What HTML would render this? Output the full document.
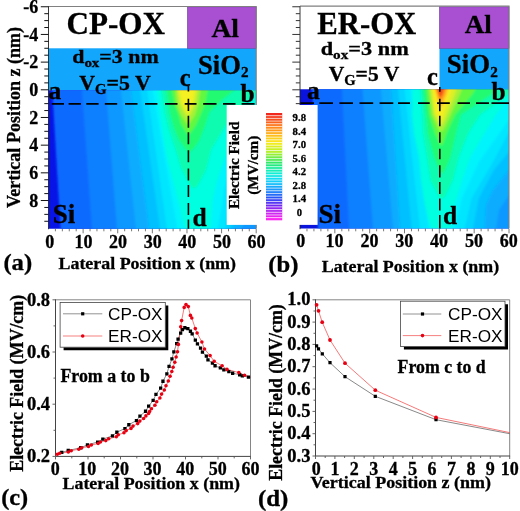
<!DOCTYPE html>
<html><head><meta charset="utf-8"><title>Electric field CP-OX vs ER-OX</title>
<style>
html,body{margin:0;padding:0;background:#fff}
body{width:520px;height:511px;overflow:hidden}
svg{display:block}
.se{font-family:'Liberation Serif', 'DejaVu Serif', serif;stroke:#000;stroke-width:.3px}
.sa{font-family:'Liberation Sans', 'DejaVu Sans', sans-serif}
</style></head><body>
<svg width="520" height="511" viewBox="0 0 520 511">
<defs><filter id="bl" x="-5%" y="-5%" width="110%" height="110%"><feGaussianBlur stdDeviation="1.1"/></filter>
<filter id="tb"><feGaussianBlur stdDeviation="0.35"/></filter></defs>
<rect width="520" height="511" fill="#fff"/>
<g id="panelA">
<rect x="48.5" y="48.3" width="207.7" height="42.1" fill="#12a6fc"/>
<rect x="187.5" y="6.8" width="68.69999999999999" height="41.5" fill="#a84fd2" stroke="#5c3a9c" stroke-width="0.6"/>
<clipPath id="clipa"><rect x="48.5" y="90.2" width="207.7" height="138.60000000000002"/></clipPath>
<g clip-path="url(#clipa)">
<rect x="46.5" y="88.2" width="211.7" height="142.60000000000002" fill="#0814e6"/>
<g filter="url(#bl)">
<path d="M52.1 87.2L276.2 87.2L276.2 231.8L60.7 231.8Z" fill="#0a6aff"/>
<path d="M81.8 87.2L276.2 87.2L276.2 231.8L92.2 231.8Z" fill="#0c80ff"/>
<path d="M105.8 87.2L276.2 87.2L276.2 231.8L117.2 231.8Z" fill="#0c98ff"/>
<path d="M120.7 87.2L276.2 87.2L300.0 150.0L270.0 180.0L250.0 210.0L240.5 231.8L136.3 231.8Z" fill="#0aacff"/>
<path d="M130.6 87.2L276.2 87.2L300.0 130.0L262.0 170.0L242.0 205.0L233.5 231.8L149.4 231.8Z" fill="#04c0ff"/>
<path d="M139.6 87.2L276.2 87.2L300.0 110.0L256.0 150.0L238.0 195.0L229.5 231.8L160.4 231.8Z" fill="#00d4ff"/>
<path d="M146.6 87.2L276.2 87.2L300.0 85.0L256.0 125.0L236.0 170.0L230.0 200.0L226.0 223.0L225.0 231.8L167.4 231.8Z" fill="#00e6ff"/>
<path d="M152.0 87.2L276.2 87.2L290.0 85.0L256.0 112.0L232.0 160.0L224.0 190.0L222.0 206.0L218.5 223.0L217.0 231.8L178.0 231.8Z" fill="#00f4fc"/>
<path d="M157.0 87.2L275.0 87.2L275.0 87.0L250.0 110.0L235.0 135.0L224.0 160.0L217.0 181.0L213.0 200.0L211.0 226.0L203.8 240.4Q199.0 250.0 194.5 242.8L184.0 226.0L178.0 200.0L173.0 181.0L167.0 158.0L163.0 135.0L160.0 113.0L157.0 87.0Z" fill="#00fee0"/>
<path d="M161.0 87.2L262.0 87.2L262.0 87.0L240.0 108.0L226.0 125.0L211.0 150.0L206.0 170.0L198.8 183.2Q194.0 192.0 190.1 184.8L181.0 168.0L175.8 150.0L169.0 130.0L165.0 113.0L161.0 87.0Z" fill="#08fcb0"/>
<path d="M166.0 87.2L238.0 87.2L238.0 87.0L222.0 100.0L209.5 112.0L205.0 126.0L199.0 141.0L193.3 148.8Q189.5 154.0 186.3 149.8L179.0 140.0L174.0 128.0L170.0 113.0L166.0 87.0Z" fill="#22fa72"/>
<path d="M171.5 87.2L208.0 87.2L208.0 87.0L205.2 103.7L200.3 115.0L196.0 125.0L191.5 131.6Q188.5 136.0 186.2 132.4L181.0 124.0L178.7 115.0L174.5 103.7L171.5 87.0Z" fill="#62f840"/>
<path d="M175.5 87.2L200.8 87.2L200.8 87.0L198.4 103.7L195.0 115.0L190.8 121.6Q188.0 126.0 185.6 122.1L180.0 113.0L176.8 103.7L175.5 87.0Z" fill="#a8f038"/>
<path d="M177.0 87.2L197.5 87.2L197.5 87.0L195.0 103.7L190.8 112.9Q188.0 119.0 185.6 114.4L180.0 103.7L177.0 87.0Z" fill="#dcf028"/>
<path d="M178.5 87.2L194.8 87.2L194.8 87.0L192.5 103.7L189.5 109.6Q187.5 113.5 186.1 110.6L182.7 103.7L178.5 87.0Z" fill="#f4f020"/>
</g>
</g>
<path d="M48.5 6.5H256.2V228.2" stroke="#808080" stroke-width="1.1" fill="none"/>
<path d="M48.5 6.260000000000005V229.2" stroke="#222" stroke-width="0.9" fill="none"/>
<path d="M40.8 6.76H48.5M44.3 13.68H48.5M44.3 20.60H48.5M44.3 27.52H48.5M40.8 34.44H48.5M44.3 41.36H48.5M44.3 48.28H48.5M44.3 55.20H48.5M40.8 62.12H48.5M44.3 69.04H48.5M44.3 75.96H48.5M44.3 82.88H48.5M40.8 89.80H48.5M44.3 96.72H48.5M44.3 103.64H48.5M44.3 110.56H48.5M40.8 117.48H48.5M44.3 124.40H48.5M44.3 131.32H48.5M44.3 138.24H48.5M40.8 145.16H48.5M44.3 152.08H48.5M44.3 159.00H48.5M44.3 165.92H48.5M40.8 172.84H48.5M44.3 179.76H48.5M44.3 186.68H48.5M44.3 193.60H48.5M40.8 200.52H48.5M44.3 207.44H48.5M44.3 214.36H48.5M44.3 221.28H48.5" stroke="#111" stroke-width="1.0" fill="none"/>
<path d="M55.42 228.7V231.29999999999998M62.35 228.7V231.29999999999998M69.27 228.7V231.29999999999998M76.19 228.7V231.29999999999998M83.12 228.7V233.29999999999998M90.04 228.7V231.29999999999998M96.96 228.7V231.29999999999998M103.89 228.7V231.29999999999998M110.81 228.7V231.29999999999998M117.73 228.7V233.29999999999998M124.66 228.7V231.29999999999998M131.58 228.7V231.29999999999998M138.50 228.7V231.29999999999998M145.43 228.7V231.29999999999998M152.35 228.7V233.29999999999998M159.27 228.7V231.29999999999998M166.20 228.7V231.29999999999998M173.12 228.7V231.29999999999998M180.04 228.7V231.29999999999998M186.97 228.7V233.29999999999998M193.89 228.7V231.29999999999998M200.81 228.7V231.29999999999998M207.74 228.7V231.29999999999998M214.66 228.7V231.29999999999998M221.58 228.7V233.29999999999998M228.51 228.7V231.29999999999998M235.43 228.7V231.29999999999998M242.35 228.7V231.29999999999998M249.28 228.7V231.29999999999998M256.20 228.7V233.29999999999998" stroke="#555" stroke-width="0.8" fill="none"/>
<text class="se" x="49.8" y="247.6" font-size="18" text-anchor="middle" font-weight="bold" fill="#000">0</text>
<text class="se" x="83.4" y="247.6" font-size="18" text-anchor="middle" font-weight="bold" fill="#000">10</text>
<text class="se" x="118.0" y="247.6" font-size="18" text-anchor="middle" font-weight="bold" fill="#000">20</text>
<text class="se" x="152.7" y="247.6" font-size="18" text-anchor="middle" font-weight="bold" fill="#000">30</text>
<text class="se" x="187.3" y="247.6" font-size="18" text-anchor="middle" font-weight="bold" fill="#000">40</text>
<text class="se" x="221.9" y="247.6" font-size="18" text-anchor="middle" font-weight="bold" fill="#000">50</text>
<text class="se" x="256.5" y="247.6" font-size="18" text-anchor="middle" font-weight="bold" fill="#000">60</text>
</g>
<g id="panelB">
<rect x="439.5" y="48.3" width="69.5" height="41.5" fill="#12a6fc"/>
<rect x="439.5" y="6.8" width="69.5" height="41.5" fill="#a84fd2" stroke="#5c3a9c" stroke-width="0.6"/>
<clipPath id="clipb"><rect x="300" y="89.2" width="209" height="139.3"/></clipPath>
<g clip-path="url(#clipb)">
<rect x="298" y="87.2" width="213" height="143.3" fill="#0a14dc"/>
<g filter="url(#bl)">
<path d="M311.9 86.2L529.0 86.2L529.0 231.5L318.1 231.5Z" fill="#0a6aff"/>
<path d="M341.8 86.2L529.0 86.2L529.0 231.5L349.2 231.5Z" fill="#0c80ff"/>
<path d="M362.3 86.2L529.0 86.2L529.0 231.5L373.2 231.5Z" fill="#0c98ff"/>
<path d="M380.7 86.2L529.0 86.2L520.0 185.0L509.0 195.0L499.0 210.0L495.5 231.5L393.3 231.5Z" fill="#0aacff"/>
<path d="M390.8 86.2L529.0 86.2L520.0 160.0L509.0 170.0L493.0 190.0L486.0 205.0L484.5 231.5L400.2 231.5Z" fill="#04c0ff"/>
<path d="M397.7 86.2L529.0 86.2L520.0 140.0L509.0 152.0L494.0 170.0L479.0 198.0L472.5 231.5L411.9 231.5Z" fill="#00d4ff"/>
<path d="M404.2 86.2L529.0 86.2L520.0 122.0L509.0 132.0L493.0 162.0L471.7 198.0L464.0 231.5L420.3 231.5Z" fill="#00e6ff"/>
<path d="M410.1 86.2L529.0 86.2L520.0 110.0L509.0 120.0L496.0 138.0L479.0 162.0L462.0 198.0L454.5 231.5L428.9 231.5Z" fill="#00f4fc"/>
<path d="M413.0 86.2L520.0 86.2L520.0 90.0L509.0 100.0L497.0 113.0L483.0 136.0L470.4 157.0L462.0 180.4L455.0 204.0L452.0 222.7L445.7 237.3Q441.5 247.0 437.8 239.7L429.0 222.7L424.6 204.0L421.0 180.4L418.8 157.0L414.0 133.5L412.0 114.7L413.0 86.0Z" fill="#00fee0"/>
<path d="M420.0 86.2L520.0 86.2L520.0 88.0L509.0 94.0L480.0 114.7L468.0 133.5L458.7 157.0L452.8 180.4L446.3 193.4Q442.0 202.0 438.6 195.5L430.5 180.4L427.0 157.0L423.0 133.5L422.3 114.7L420.0 86.0Z" fill="#08fcb0"/>
<path d="M422.7 86.2L497.0 86.2L497.0 86.0L492.0 94.0L461.0 114.7L456.0 133.5L450.5 157.0L445.4 169.0Q442.0 177.0 439.6 171.0L434.0 157.0L428.0 133.5L426.0 114.7L422.7 86.0Z" fill="#22fa72"/>
<path d="M426.0 86.2L477.0 86.2L477.0 86.0L472.7 94.0L455.0 114.7L446.5 133.5L443.5 142.2Q441.5 148.0 439.6 143.7L435.0 133.5L429.3 114.7L426.0 86.0Z" fill="#62f840"/>
<path d="M428.5 86.2L463.0 86.2L463.0 86.0L460.0 94.0L450.5 114.7L444.8 126.9Q441.0 135.0 438.3 128.9L432.0 114.7L428.5 86.0Z" fill="#a8f038"/>
<path d="M430.5 86.2L457.5 86.2L457.5 86.0L455.0 94.0L447.0 114.0L443.4 122.4Q441.0 128.0 438.9 123.8L434.0 114.0L430.5 86.0Z" fill="#dcf028"/>
<path d="M432.3 86.2L452.0 86.2L452.0 86.0L450.0 94.0L444.0 112.0L442.0 118.0Q440.6 122.0 439.0 119.0L435.2 112.0L432.3 86.0Z" fill="#f8ec20"/>
<path d="M434.0 86.2L449.0 86.2L449.0 86.0L447.0 94.0L443.1 103.9Q440.5 110.5 438.6 103.2L434.0 86.0Z" fill="#ffc020"/>
<path d="M435.2 86.2L446.5 86.2L446.5 86.0L445.0 93.0L442.2 99.3Q440.4 103.5 438.8 98.2L435.2 86.0Z" fill="#ff8c20"/>
<path d="M436.3 86.2L444.0 86.2L444.0 86.0L443.0 92.0L441.3 95.9Q440.2 98.5 439.0 94.8L436.3 86.0Z" fill="#f04818"/>
</g>
</g>
<path d="M300 6.1H509V228.2" stroke="#808080" stroke-width="1.1" fill="none"/>
<path d="M300 6.260000000000005V229.2" stroke="#222" stroke-width="0.9" fill="none"/>
<path d="M292.3 6.76H300M295.8 13.68H300M295.8 20.60H300M295.8 27.52H300M292.3 34.44H300M295.8 41.36H300M295.8 48.28H300M295.8 55.20H300M292.3 62.12H300M295.8 69.04H300M295.8 75.96H300M295.8 82.88H300M292.3 89.80H300M295.8 96.72H300M295.8 103.64H300M295.8 110.56H300M292.3 117.48H300M295.8 124.40H300M295.8 131.32H300M295.8 138.24H300M292.3 145.16H300M295.8 152.08H300M295.8 159.00H300M295.8 165.92H300M292.3 172.84H300M295.8 179.76H300M295.8 186.68H300M295.8 193.60H300M292.3 200.52H300M295.8 207.44H300M295.8 214.36H300M295.8 221.28H300" stroke="#333" stroke-width="1.0" fill="none"/>
<path d="M306.97 228.7V231.29999999999998M313.93 228.7V231.29999999999998M320.90 228.7V231.29999999999998M327.87 228.7V231.29999999999998M334.83 228.7V233.29999999999998M341.80 228.7V231.29999999999998M348.77 228.7V231.29999999999998M355.73 228.7V231.29999999999998M362.70 228.7V231.29999999999998M369.67 228.7V233.29999999999998M376.63 228.7V231.29999999999998M383.60 228.7V231.29999999999998M390.57 228.7V231.29999999999998M397.53 228.7V231.29999999999998M404.50 228.7V233.29999999999998M411.47 228.7V231.29999999999998M418.43 228.7V231.29999999999998M425.40 228.7V231.29999999999998M432.37 228.7V231.29999999999998M439.33 228.7V233.29999999999998M446.30 228.7V231.29999999999998M453.27 228.7V231.29999999999998M460.23 228.7V231.29999999999998M467.20 228.7V231.29999999999998M474.17 228.7V233.29999999999998M481.13 228.7V231.29999999999998M488.10 228.7V231.29999999999998M495.07 228.7V231.29999999999998M502.03 228.7V231.29999999999998M509.00 228.7V233.29999999999998" stroke="#555" stroke-width="0.8" fill="none"/>
<text class="se" x="300.7" y="247.3" font-size="18" text-anchor="middle" font-weight="bold" fill="#000">0</text>
<text class="se" x="334.5" y="247.3" font-size="18" text-anchor="middle" font-weight="bold" fill="#000">10</text>
<text class="se" x="369.4" y="247.3" font-size="18" text-anchor="middle" font-weight="bold" fill="#000">20</text>
<text class="se" x="404.2" y="247.3" font-size="18" text-anchor="middle" font-weight="bold" fill="#000">30</text>
<text class="se" x="439.0" y="247.3" font-size="18" text-anchor="middle" font-weight="bold" fill="#000">40</text>
<text class="se" x="473.9" y="247.3" font-size="18" text-anchor="middle" font-weight="bold" fill="#000">50</text>
<text class="se" x="508.7" y="247.3" font-size="18" text-anchor="middle" font-weight="bold" fill="#000">60</text>
</g>
<g id="legend">
<rect x="226.7" y="105" width="90.9" height="119.9" fill="#fff"/>
<rect x="266" y="113.00" width="16.2" height="2.68" fill="#f0281e"/>
<rect x="266" y="115.68" width="16.2" height="2.68" fill="#f33c1e"/>
<rect x="266" y="118.36" width="16.2" height="2.68" fill="#f64f1e"/>
<rect x="266" y="121.05" width="16.2" height="2.68" fill="#f9631e"/>
<rect x="266" y="123.73" width="16.2" height="2.68" fill="#fc771e"/>
<rect x="266" y="126.41" width="16.2" height="2.68" fill="#ff8b1e"/>
<rect x="266" y="129.09" width="16.2" height="2.68" fill="#fe9c1e"/>
<rect x="266" y="131.78" width="16.2" height="2.68" fill="#fdae1e"/>
<rect x="266" y="134.46" width="16.2" height="2.68" fill="#fcbf1e"/>
<rect x="266" y="137.14" width="16.2" height="2.68" fill="#fbd01e"/>
<rect x="266" y="139.82" width="16.2" height="2.68" fill="#fae21e"/>
<rect x="266" y="142.51" width="16.2" height="2.68" fill="#f1ec1f"/>
<rect x="266" y="145.19" width="16.2" height="2.68" fill="#dded22"/>
<rect x="266" y="147.87" width="16.2" height="2.68" fill="#c9ef25"/>
<rect x="266" y="150.56" width="16.2" height="2.68" fill="#b5f028"/>
<rect x="266" y="153.24" width="16.2" height="2.68" fill="#95ee38"/>
<rect x="266" y="155.92" width="16.2" height="2.68" fill="#74ec48"/>
<rect x="266" y="158.60" width="16.2" height="2.68" fill="#53ea58"/>
<rect x="266" y="161.28" width="16.2" height="2.68" fill="#33e969"/>
<rect x="266" y="163.97" width="16.2" height="2.68" fill="#24ea81"/>
<rect x="266" y="166.65" width="16.2" height="2.68" fill="#1eec9e"/>
<rect x="266" y="169.33" width="16.2" height="2.68" fill="#19eeba"/>
<rect x="266" y="172.01" width="16.2" height="2.68" fill="#14efd4"/>
<rect x="266" y="174.70" width="16.2" height="2.68" fill="#14e5e3"/>
<rect x="266" y="177.38" width="16.2" height="2.68" fill="#14dcf2"/>
<rect x="266" y="180.06" width="16.2" height="2.68" fill="#15cffa"/>
<rect x="266" y="182.75" width="16.2" height="2.68" fill="#18bdfa"/>
<rect x="266" y="185.43" width="16.2" height="2.68" fill="#1baafa"/>
<rect x="266" y="188.11" width="16.2" height="2.68" fill="#1e97fa"/>
<rect x="266" y="190.79" width="16.2" height="2.68" fill="#2181f9"/>
<rect x="266" y="193.48" width="16.2" height="2.68" fill="#246bf7"/>
<rect x="266" y="196.16" width="16.2" height="2.68" fill="#2754f5"/>
<rect x="266" y="198.84" width="16.2" height="2.68" fill="#3d44f4"/>
<rect x="266" y="201.52" width="16.2" height="2.68" fill="#5636f2"/>
<rect x="266" y="204.20" width="16.2" height="2.68" fill="#7028f0"/>
<rect x="266" y="206.89" width="16.2" height="2.68" fill="#9128f0"/>
<rect x="266" y="209.57" width="16.2" height="2.68" fill="#b228f0"/>
<rect x="266" y="212.25" width="16.2" height="2.68" fill="#cf28f0"/>
<rect x="266" y="214.94" width="16.2" height="2.68" fill="#e528f0"/>
<rect x="266" y="217.62" width="16.2" height="2.68" fill="#fa28f0"/>
<path d="M266 115.68h16.2M266 118.36h16.2M266 121.05h16.2M266 123.73h16.2M266 126.41h16.2M266 129.09h16.2M266 131.78h16.2M266 134.46h16.2M266 137.14h16.2M266 139.82h16.2M266 142.51h16.2M266 145.19h16.2M266 147.87h16.2M266 150.56h16.2M266 153.24h16.2M266 155.92h16.2M266 158.60h16.2M266 161.28h16.2M266 163.97h16.2M266 166.65h16.2M266 169.33h16.2M266 172.01h16.2M266 174.70h16.2M266 177.38h16.2M266 180.06h16.2M266 182.75h16.2M266 185.43h16.2M266 188.11h16.2M266 190.79h16.2M266 193.48h16.2M266 196.16h16.2M266 198.84h16.2M266 201.52h16.2M266 204.20h16.2M266 206.89h16.2M266 209.57h16.2M266 212.25h16.2M266 214.94h16.2M266 217.62h16.2" stroke="#fff" stroke-opacity="0.7" stroke-width="0.9" fill="none"/>
<text class="se" x="292.6" y="121.0" font-size="10.5" text-anchor="start" font-weight="bold" fill="#000" textLength="13.4" lengthAdjust="spacingAndGlyphs">9.8</text>
<text class="se" x="292.6" y="134.6" font-size="10.5" text-anchor="start" font-weight="bold" fill="#000" textLength="13.4" lengthAdjust="spacingAndGlyphs">8.4</text>
<text class="se" x="292.6" y="148.1" font-size="10.5" text-anchor="start" font-weight="bold" fill="#000" textLength="13.4" lengthAdjust="spacingAndGlyphs">7.0</text>
<text class="se" x="292.6" y="161.7" font-size="10.5" text-anchor="start" font-weight="bold" fill="#000" textLength="13.4" lengthAdjust="spacingAndGlyphs">5.6</text>
<text class="se" x="292.6" y="175.3" font-size="10.5" text-anchor="start" font-weight="bold" fill="#000" textLength="13.4" lengthAdjust="spacingAndGlyphs">4.2</text>
<text class="se" x="292.6" y="188.8" font-size="10.5" text-anchor="start" font-weight="bold" fill="#000" textLength="13.4" lengthAdjust="spacingAndGlyphs">2.8</text>
<text class="se" x="292.6" y="202.4" font-size="10.5" text-anchor="start" font-weight="bold" fill="#000" textLength="13.4" lengthAdjust="spacingAndGlyphs">1.4</text>
<text class="se" x="299.3" y="216.0" font-size="10.5" text-anchor="middle" font-weight="bold" fill="#000">0</text>
<text class="se" font-size="15.2" font-weight="bold" text-anchor="middle" transform="translate(238.8,165.3) rotate(-90)" textLength="87.5" lengthAdjust="spacingAndGlyphs">Electric Field</text>
<text class="se" font-size="15.2" font-weight="bold" text-anchor="middle" transform="translate(257.9,165.2) rotate(-90)" textLength="59" lengthAdjust="spacingAndGlyphs">(MV/cm)</text>
</g>
<g id="labelsTop">
<text class="se" x="66.5" y="34.3" font-size="31.5" text-anchor="start" font-weight="bold" fill="#000" textLength="98.5" lengthAdjust="spacingAndGlyphs">CP-OX</text>
<text class="se" x="211.5" y="36.5" font-size="25" text-anchor="start" font-weight="bold" fill="#000" textLength="27.5" lengthAdjust="spacingAndGlyphs">Al</text>
<text class="se" x="72.2" y="63.2" font-size="19.5" font-weight="bold" textLength="86.5" lengthAdjust="spacingAndGlyphs">d<tspan font-size="13.3" dy="4">ox</tspan><tspan dy="-4">=3 nm</tspan></text>
<text class="se" x="79.3" y="89.6" font-size="20" font-weight="bold" textLength="71.5" lengthAdjust="spacingAndGlyphs">V<tspan font-size="13.6" dy="4">G</tspan><tspan dy="-4">=5 V</tspan></text>
<text class="se" x="198" y="73.6" font-size="26.5" font-weight="bold" textLength="50.5" lengthAdjust="spacingAndGlyphs">SiO<tspan font-size="15" dy="3.5">2</tspan><tspan dy="-3.5"></tspan></text>
<text class="se" x="48.6" y="99.3" font-size="25.5" text-anchor="start" font-weight="bold" fill="#000">a</text>
<text class="se" x="179.8" y="86" font-size="24.5" text-anchor="start" font-weight="bold" fill="#000">c</text>
<text class="se" x="240.6" y="101.5" font-size="25.5" text-anchor="start" font-weight="bold" fill="#000">b</text>
<text class="se" x="52.8" y="222.5" font-size="27" text-anchor="start" font-weight="bold" fill="#000">Si</text>
<text class="se" x="192.6" y="226" font-size="25.5" text-anchor="start" font-weight="bold" fill="#000">d</text>
<text class="se" x="317.3" y="34.0" font-size="31.5" text-anchor="start" font-weight="bold" fill="#000" textLength="99" lengthAdjust="spacingAndGlyphs">ER-OX</text>
<text class="se" x="464.8" y="32.7" font-size="25" text-anchor="start" font-weight="bold" fill="#000" textLength="27" lengthAdjust="spacingAndGlyphs">Al</text>
<text class="se" x="320.7" y="55.2" font-size="19.5" font-weight="bold" textLength="88" lengthAdjust="spacingAndGlyphs">d<tspan font-size="13.3" dy="4">ox</tspan><tspan dy="-4">=3 nm</tspan></text>
<text class="se" x="328.7" y="81.2" font-size="20" font-weight="bold" textLength="70.5" lengthAdjust="spacingAndGlyphs">V<tspan font-size="13.6" dy="4">G</tspan><tspan dy="-4">=5 V</tspan></text>
<text class="se" x="446.8" y="73" font-size="26.5" font-weight="bold" textLength="51" lengthAdjust="spacingAndGlyphs">SiO<tspan font-size="15" dy="3.5">2</tspan><tspan dy="-3.5"></tspan></text>
<text class="se" x="306.9" y="99.4" font-size="25.5" text-anchor="start" font-weight="bold" fill="#000">a</text>
<text class="se" x="427" y="85" font-size="24.5" text-anchor="start" font-weight="bold" fill="#000">c</text>
<text class="se" x="491.6" y="100" font-size="25.5" text-anchor="start" font-weight="bold" fill="#000">b</text>
<text class="se" x="318.5" y="222.5" font-size="27" text-anchor="start" font-weight="bold" fill="#000">Si</text>
<text class="se" x="443" y="224" font-size="25.5" text-anchor="start" font-weight="bold" fill="#000">d</text>
<path d="M51.7 103.9H64M68.6 103.9H80.9M86.3 103.9H98.6M104.8 103.9H117.2M125 103.9H137.5M145 103.9H157.4M165 103.9H177.5M184.7 103.9H196.5M203.2 103.9H216.5M223 103.9H235.5M241.6 103.9H254.6" stroke="#000" stroke-width="1.6" fill="none"/>
<path d="M300.5 103.1H314M319.3 103.1H333M339.4 103.1H353M359.5 103.1H373.2M379.6 103.1H393.3M398 103.1H410M418 103.1H429.7M437 103.1H449.8M457.6 103.1H470M476 103.1H489M491.5 103.1H509" stroke="#000" stroke-width="1.6" fill="none"/>
<path d="M188.4 86V91.5M188.4 98.8V111M188.4 115.7V127.7M188.4 132.2V144.3M188.4 150.3V162.3M188.4 168.4V180.4M188.4 185V197M188.4 203V215M188.4 219.6V228.8" stroke="#000" stroke-width="1.6" fill="none"/>
<path d="M439.8 87V91.7M439.8 98.8V111.3M439.8 115.7V126.2M439.8 132.2V142.8M439.8 148.8V159.3M439.8 165.3V177.4M439.8 182V194M439.8 198.5V210.5M439.8 215V228.5" stroke="#000" stroke-width="1.6" fill="none"/>
<text class="se" x="38.3" y="12.9" font-size="18" text-anchor="end" font-weight="bold" fill="#000">-6</text>
<text class="se" x="38.3" y="40.5" font-size="18" text-anchor="end" font-weight="bold" fill="#000">-4</text>
<text class="se" x="38.3" y="68.2" font-size="18" text-anchor="end" font-weight="bold" fill="#000">-2</text>
<text class="se" x="38.3" y="95.9" font-size="18" text-anchor="end" font-weight="bold" fill="#000">0</text>
<text class="se" x="38.3" y="123.6" font-size="18" text-anchor="end" font-weight="bold" fill="#000">2</text>
<text class="se" x="38.3" y="151.3" font-size="18" text-anchor="end" font-weight="bold" fill="#000">4</text>
<text class="se" x="38.3" y="178.9" font-size="18" text-anchor="end" font-weight="bold" fill="#000">6</text>
<text class="se" x="38.3" y="206.6" font-size="18" text-anchor="end" font-weight="bold" fill="#000">8</text>
<text class="se" font-size="18" font-weight="bold" text-anchor="middle" transform="translate(20,117.5) rotate(-90)" textLength="181" lengthAdjust="spacingAndGlyphs">Vertical Position z (nm)</text>
<text class="se" x="3.4" y="270.2" font-size="22.8" text-anchor="start" font-weight="bold" fill="#000" textLength="28.8" lengthAdjust="spacingAndGlyphs">(a)</text>
<text class="se" x="268.3" y="272.4" font-size="22.8" text-anchor="start" font-weight="bold" fill="#000" textLength="30.2" lengthAdjust="spacingAndGlyphs">(b)</text>
<text class="se" x="58.5" y="269.3" font-size="17.2" text-anchor="start" font-weight="bold" fill="#000" textLength="177.5" lengthAdjust="spacingAndGlyphs">Lateral Position x (nm)</text>
<text class="se" x="321.7" y="271.8" font-size="17.2" text-anchor="start" font-weight="bold" fill="#000" textLength="177.5" lengthAdjust="spacingAndGlyphs">Lateral Position x (nm)</text>
</g>
<g id="panelC">
<path d="M55.5 299.8H250.5V456.4" stroke="#777" stroke-width="0.9" fill="none"/>
<path d="M55.5 299.3V456.4H250.9" stroke="#444" stroke-width="1" fill="none"/>
<path d="M52.5 456.4H55.5M53.5 430.3H55.5M52.5 404.2H55.5M53.5 378.1H55.5M52.5 352.0H55.5M53.5 325.9H55.5M52.5 299.8H55.5M55.5 456.4V459.4M71.8 456.4V458.4M88.0 456.4V459.4M104.2 456.4V458.4M120.5 456.4V459.4M136.8 456.4V458.4M153.0 456.4V459.4M169.2 456.4V458.4M185.5 456.4V459.4M201.8 456.4V458.4M218.0 456.4V459.4M234.2 456.4V458.4M250.5 456.4V459.4" stroke="#555" stroke-width="0.9" fill="none"/>
<text class="se" x="50.0" y="462.1" font-size="18.5" text-anchor="end" font-weight="bold" fill="#000">0.2</text>
<text class="se" x="50.0" y="409.9" font-size="18.5" text-anchor="end" font-weight="bold" fill="#000">0.4</text>
<text class="se" x="50.0" y="357.7" font-size="18.5" text-anchor="end" font-weight="bold" fill="#000">0.6</text>
<text class="se" x="50.0" y="305.5" font-size="18.5" text-anchor="end" font-weight="bold" fill="#000">0.8</text>
<text class="se" x="55.3" y="475.3" font-size="18" text-anchor="middle" font-weight="bold" fill="#000">0</text>
<text class="se" x="87.2" y="475.3" font-size="18" text-anchor="middle" font-weight="bold" fill="#000">10</text>
<text class="se" x="119.9" y="475.3" font-size="18" text-anchor="middle" font-weight="bold" fill="#000">20</text>
<text class="se" x="152.5" y="475.3" font-size="18" text-anchor="middle" font-weight="bold" fill="#000">30</text>
<text class="se" x="185.2" y="475.3" font-size="18" text-anchor="middle" font-weight="bold" fill="#000">40</text>
<text class="se" x="217.8" y="475.3" font-size="18" text-anchor="middle" font-weight="bold" fill="#000">50</text>
<text class="se" x="250.5" y="475.3" font-size="18" text-anchor="middle" font-weight="bold" fill="#000">60</text>
<text class="se" x="62.5" y="488.5" font-size="17.2" text-anchor="start" font-weight="bold" fill="#000" textLength="177.5" lengthAdjust="spacingAndGlyphs">Lateral Position x (nm)</text>
<text class="se" font-size="18" font-weight="bold" text-anchor="middle" transform="translate(23,383.3) rotate(-90)" textLength="177" lengthAdjust="spacingAndGlyphs">Electric Field (MV/cm)</text>
<text class="se" x="1.2" y="505.2" font-size="22.8" text-anchor="start" font-weight="bold" fill="#000" textLength="27" lengthAdjust="spacingAndGlyphs">(c)</text>
<path d="M55.5 454.8L61.8 452.4 L68.3 450.5 L80.8 447.7 L87.5 444.9 L97.7 442.0 L102.9 439.1 L112.5 435.9 L116.9 432.2 L125.0 428.5 L128.8 424.7 L136.5 420.5 L140.0 416.0 L145.6 411.3 L148.7 406.1 L153.2 400.4 L156.0 394.5 L160.7 388.1 L163.0 381.2 L166.8 373.9 L169.1 366.3 L172.0 358.9 L173.8 351.9 L176.7 343.5 L178.1 339.1 L180.7 333.0 L182.5 329.5 L184.8 327.7 L187.8 328.6 L190.4 331.2 L192.2 333.9 L195.3 340.0 L197.5 343.9 L200.6 348.1 L202.4 352.1 L206.3 356.1 L208.0 359.8 L212.4 363.1 L215.1 365.8 L220.3 368.0 L223.9 369.9 L228.8 371.6 L232.7 373.2 L239.7 374.7 L242.3 375.9 L248.5 377.0 L250.5 377.3" stroke="#555" stroke-width="0.7" fill="none"/>
<path d="M55.5 455.2L57.3 454.2 L59.7 453.3 L68.3 452.0 L71.2 450.7 L78.8 449.2 L81.7 447.8 L88.5 446.5 L91.3 445.0 L98.1 443.5 L100.4 442.0 L105.8 440.6 L108.7 438.8 L116.3 436.7 L118.3 434.8 L124.0 432.8 L126.2 430.6 L131.0 428.4 L133.0 426.1 L137.7 423.6 L139.8 421.1 L143.6 418.5 L145.9 415.9 L148.6 413.5 L149.6 411.5 L151.4 408.8 L154.9 405.3 L156.7 401.7 L159.9 398.0 L161.6 394.1 L164.3 390.0 L166.0 385.7 L168.3 381.0 L170.1 376.2 L171.8 371.5 L173.1 367.2 L174.8 362.3 L176.1 357.0 L177.5 351.8 L178.4 344.4 L180.7 326.8 L181.6 320.6 L184.2 307.4 L186.0 304.5 L188.3 306.6 L190.4 315.4 L191.8 318.0 L195.3 328.6 L197.1 333.0 L201.9 342.0 L204.5 349.0 L210.1 355.6 L214.2 361.3 L222.1 365.8 L227.0 369.4 L238.8 372.6 L244.6 375.3 L250.5 377" stroke="#f04040" stroke-width="0.7" fill="none"/>
<path d="M60.1 450.8h3.3v3.3h-3.3zM66.6 448.8h3.3v3.3h-3.3zM79.1 446.1h3.3v3.3h-3.3zM85.8 443.2h3.3v3.3h-3.3zM96.0 440.4h3.3v3.3h-3.3zM101.2 437.4h3.3v3.3h-3.3zM110.8 434.2h3.3v3.3h-3.3zM115.2 430.6h3.3v3.3h-3.3zM123.3 426.9h3.3v3.3h-3.3zM127.2 423.1h3.3v3.3h-3.3zM134.8 418.9h3.3v3.3h-3.3zM138.3 414.4h3.3v3.3h-3.3zM143.9 409.6h3.3v3.3h-3.3zM147.0 404.4h3.3v3.3h-3.3zM151.5 398.8h3.3v3.3h-3.3zM154.3 392.8h3.3v3.3h-3.3zM159.0 386.5h3.3v3.3h-3.3zM161.3 379.6h3.3v3.3h-3.3zM165.2 372.3h3.3v3.3h-3.3zM167.4 364.7h3.3v3.3h-3.3zM170.3 357.3h3.3v3.3h-3.3zM172.2 350.2h3.3v3.3h-3.3zM175.0 341.9h3.3v3.3h-3.3zM176.4 337.5h3.3v3.3h-3.3zM179.0 331.4h3.3v3.3h-3.3zM180.8 327.9h3.3v3.3h-3.3zM183.2 326.1h3.3v3.3h-3.3zM186.2 327.0h3.3v3.3h-3.3zM188.8 329.6h3.3v3.3h-3.3zM190.5 332.2h3.3v3.3h-3.3zM193.7 338.4h3.3v3.3h-3.3zM195.8 342.3h3.3v3.3h-3.3zM198.9 346.5h3.3v3.3h-3.3zM200.8 350.5h3.3v3.3h-3.3zM204.7 354.4h3.3v3.3h-3.3zM206.3 358.2h3.3v3.3h-3.3zM210.8 361.5h3.3v3.3h-3.3zM213.4 364.1h3.3v3.3h-3.3zM218.7 366.3h3.3v3.3h-3.3zM222.2 368.3h3.3v3.3h-3.3zM227.2 370.0h3.3v3.3h-3.3zM231.0 371.6h3.3v3.3h-3.3zM238.0 373.1h3.3v3.3h-3.3zM240.7 374.2h3.3v3.3h-3.3zM246.8 375.4h3.3v3.3h-3.3z" fill="#000"/>
<g fill="#e60012">
<circle cx="57.3" cy="454.2" r="1.8"/>
<circle cx="59.7" cy="453.3" r="1.8"/>
<circle cx="68.3" cy="452.0" r="1.8"/>
<circle cx="71.2" cy="450.7" r="1.8"/>
<circle cx="78.8" cy="449.2" r="1.8"/>
<circle cx="81.7" cy="447.8" r="1.8"/>
<circle cx="88.5" cy="446.5" r="1.8"/>
<circle cx="91.3" cy="445.0" r="1.8"/>
<circle cx="98.1" cy="443.5" r="1.8"/>
<circle cx="100.4" cy="442.0" r="1.8"/>
<circle cx="105.8" cy="440.6" r="1.8"/>
<circle cx="108.7" cy="438.8" r="1.8"/>
<circle cx="116.3" cy="436.7" r="1.8"/>
<circle cx="118.3" cy="434.8" r="1.8"/>
<circle cx="124.0" cy="432.8" r="1.8"/>
<circle cx="126.2" cy="430.6" r="1.8"/>
<circle cx="131.0" cy="428.4" r="1.8"/>
<circle cx="133.0" cy="426.1" r="1.8"/>
<circle cx="137.7" cy="423.6" r="1.8"/>
<circle cx="139.8" cy="421.1" r="1.8"/>
<circle cx="143.6" cy="418.5" r="1.8"/>
<circle cx="145.9" cy="415.9" r="1.8"/>
<circle cx="148.6" cy="413.5" r="1.8"/>
<circle cx="149.6" cy="411.5" r="1.8"/>
<circle cx="151.4" cy="408.8" r="1.8"/>
<circle cx="154.9" cy="405.3" r="1.8"/>
<circle cx="156.7" cy="401.7" r="1.8"/>
<circle cx="159.9" cy="398.0" r="1.8"/>
<circle cx="161.6" cy="394.1" r="1.8"/>
<circle cx="164.3" cy="390.0" r="1.8"/>
<circle cx="166.0" cy="385.7" r="1.8"/>
<circle cx="168.3" cy="381.0" r="1.8"/>
<circle cx="170.1" cy="376.2" r="1.8"/>
<circle cx="171.8" cy="371.5" r="1.8"/>
<circle cx="173.1" cy="367.2" r="1.8"/>
<circle cx="174.8" cy="362.3" r="1.8"/>
<circle cx="176.1" cy="357.0" r="1.8"/>
<circle cx="177.5" cy="351.8" r="1.8"/>
<circle cx="178.4" cy="344.4" r="1.8"/>
<circle cx="180.7" cy="326.8" r="1.8"/>
<circle cx="181.6" cy="320.6" r="1.8"/>
<circle cx="184.2" cy="307.4" r="1.8"/>
<circle cx="186.0" cy="304.5" r="1.8"/>
<circle cx="188.3" cy="306.6" r="1.8"/>
<circle cx="190.4" cy="315.4" r="1.8"/>
<circle cx="191.8" cy="318.0" r="1.8"/>
<circle cx="195.3" cy="328.6" r="1.8"/>
<circle cx="197.1" cy="333.0" r="1.8"/>
<circle cx="201.9" cy="342.0" r="1.8"/>
<circle cx="204.5" cy="349.0" r="1.8"/>
<circle cx="210.1" cy="355.6" r="1.8"/>
<circle cx="214.2" cy="361.3" r="1.8"/>
<circle cx="222.1" cy="365.8" r="1.8"/>
<circle cx="227.0" cy="369.4" r="1.8"/>
<circle cx="238.8" cy="372.6" r="1.8"/>
<circle cx="244.6" cy="375.3" r="1.8"/>
</g>
<path d="M63.6 347.2h101.7v-41.7h3v44.7h-104.7z" fill="#000"/>
<rect x="60.1" y="302.5" width="105.2" height="44.7" fill="#fff" stroke="#444" stroke-width="0.8"/>
<path d="M63 313.8H102.3" stroke="#777" stroke-width="0.8"/>
<rect x="81.10000000000001" y="312.2" width="3.2" height="3.2" fill="#000"/>
<path d="M63 336H102.3" stroke="#f26060" stroke-width="0.8"/>
<circle cx="82.7" cy="336" r="1.8" fill="#e60012"/>
<text class="sa" x="108" y="319.8" font-size="17" text-anchor="start" font-weight="normal" fill="#000" textLength="54.5" lengthAdjust="spacingAndGlyphs">CP-OX</text>
<text class="sa" x="108" y="341.7" font-size="17" text-anchor="start" font-weight="normal" fill="#000" textLength="54.5" lengthAdjust="spacingAndGlyphs">ER-OX</text>
<text class="se" x="60.4" y="381.9" font-size="18" text-anchor="start" font-weight="bold" fill="#000" textLength="89.5" lengthAdjust="spacingAndGlyphs">From a to b</text>
</g>
<g id="panelD">
<path d="M315.5 299.8H509.7V456.0" stroke="#777" stroke-width="0.9" fill="none"/>
<path d="M315.5 299.3V456.0H510.09999999999997" stroke="#444" stroke-width="1" fill="none"/>
<path d="M312.5 456.0H315.5M313.5 444.8H315.5M312.5 433.7H315.5M313.5 422.5H315.5M312.5 411.4H315.5M313.5 400.2H315.5M312.5 389.1H315.5M313.5 377.9H315.5M312.5 366.7H315.5M313.5 355.6H315.5M312.5 344.4H315.5M313.5 333.3H315.5M312.5 322.1H315.5M313.5 311.0H315.5M312.5 299.8H315.5M315.5 456.0V459.0M325.2 456.0V458.0M334.9 456.0V459.0M344.6 456.0V458.0M354.3 456.0V459.0M364.1 456.0V458.0M373.8 456.0V459.0M383.5 456.0V458.0M393.2 456.0V459.0M402.9 456.0V458.0M412.6 456.0V459.0M422.3 456.0V458.0M432.0 456.0V459.0M441.7 456.0V458.0M451.4 456.0V459.0M461.1 456.0V458.0M470.9 456.0V459.0M480.6 456.0V458.0M490.3 456.0V459.0M500.0 456.0V458.0M509.7 456.0V459.0" stroke="#555" stroke-width="0.9" fill="none"/>
<text class="se" x="310.4" y="461.6" font-size="18.5" text-anchor="end" font-weight="bold" fill="#000">0.3</text>
<text class="se" x="310.4" y="439.3" font-size="18.5" text-anchor="end" font-weight="bold" fill="#000">0.4</text>
<text class="se" x="310.4" y="417.0" font-size="18.5" text-anchor="end" font-weight="bold" fill="#000">0.5</text>
<text class="se" x="310.4" y="394.7" font-size="18.5" text-anchor="end" font-weight="bold" fill="#000">0.6</text>
<text class="se" x="310.4" y="372.3" font-size="18.5" text-anchor="end" font-weight="bold" fill="#000">0.7</text>
<text class="se" x="310.4" y="350.0" font-size="18.5" text-anchor="end" font-weight="bold" fill="#000">0.8</text>
<text class="se" x="310.4" y="327.7" font-size="18.5" text-anchor="end" font-weight="bold" fill="#000">0.9</text>
<text class="se" x="310.4" y="305.4" font-size="18.5" text-anchor="end" font-weight="bold" fill="#000">1.0</text>
<text class="se" x="316.2" y="475.1" font-size="18" text-anchor="middle" font-weight="bold" fill="#000">0</text>
<text class="se" x="334.9" y="475.1" font-size="18" text-anchor="middle" font-weight="bold" fill="#000">1</text>
<text class="se" x="354.3" y="475.1" font-size="18" text-anchor="middle" font-weight="bold" fill="#000">2</text>
<text class="se" x="373.8" y="475.1" font-size="18" text-anchor="middle" font-weight="bold" fill="#000">3</text>
<text class="se" x="393.2" y="475.1" font-size="18" text-anchor="middle" font-weight="bold" fill="#000">4</text>
<text class="se" x="412.6" y="475.1" font-size="18" text-anchor="middle" font-weight="bold" fill="#000">5</text>
<text class="se" x="432.0" y="475.1" font-size="18" text-anchor="middle" font-weight="bold" fill="#000">6</text>
<text class="se" x="451.4" y="475.1" font-size="18" text-anchor="middle" font-weight="bold" fill="#000">7</text>
<text class="se" x="470.9" y="475.1" font-size="18" text-anchor="middle" font-weight="bold" fill="#000">8</text>
<text class="se" x="490.3" y="475.1" font-size="18" text-anchor="middle" font-weight="bold" fill="#000">9</text>
<text class="se" x="509.7" y="475.1" font-size="18" text-anchor="middle" font-weight="bold" fill="#000">10</text>
<text class="se" x="310.5" y="487.8" font-size="17.2" text-anchor="start" font-weight="bold" fill="#000" textLength="180.5" lengthAdjust="spacingAndGlyphs">Vertical Position z (nm)</text>
<text class="se" font-size="18" font-weight="bold" text-anchor="middle" transform="translate(282,392.5) rotate(-90)" textLength="176.5" lengthAdjust="spacingAndGlyphs">Electric Field (MV/cm)</text>
<text class="se" x="257.9" y="505.6" font-size="22.8" text-anchor="start" font-weight="bold" fill="#000" textLength="30.5" lengthAdjust="spacingAndGlyphs">(d)</text>
<path d="M316.6 345.8 L318.5 348.8 L322.3 353.8 L330 362.7 L345 376.7 L375.3 396.3 L436 419.7 L509.7 433.7" stroke="#555" stroke-width="0.7" fill="none"/>
<path d="M316.6 304.8 L318.5 310.8 L322.2 322.2 L330 340 L345 363.2 L375.3 390.2 L436 417.4 L509.7 432.6" stroke="#f04040" stroke-width="0.7" fill="none"/>
<path d="M315.0 344.2h3.2v3.2h-3.2zM316.9 347.2h3.2v3.2h-3.2zM320.7 352.2h3.2v3.2h-3.2zM328.4 361.1h3.2v3.2h-3.2zM343.4 375.1h3.2v3.2h-3.2zM373.7 394.7h3.2v3.2h-3.2zM434.4 418.1h3.2v3.2h-3.2z" fill="#000"/>
<circle cx="316.6" cy="304.8" r="1.9" fill="#e60012"/>
<circle cx="318.5" cy="310.8" r="1.9" fill="#e60012"/>
<circle cx="322.2" cy="322.2" r="1.9" fill="#e60012"/>
<circle cx="330" cy="340" r="1.9" fill="#e60012"/>
<circle cx="345" cy="363.2" r="1.9" fill="#e60012"/>
<circle cx="375.3" cy="390.2" r="1.9" fill="#e60012"/>
<circle cx="436" cy="417.4" r="1.9" fill="#e60012"/>
<path d="M403.9 346.4h101.1v-42.2h3v45.2h-104.1z" fill="#000"/>
<rect x="400.4" y="301.2" width="104.6" height="45.2" fill="#fff" stroke="#444" stroke-width="0.8"/>
<path d="M402.8 314H441.3" stroke="#777" stroke-width="0.8"/>
<rect x="420.9" y="312.4" width="3.2" height="3.2" fill="#000"/>
<path d="M402.8 335.6H441.3" stroke="#f26060" stroke-width="0.8"/>
<circle cx="422.5" cy="335.6" r="1.8" fill="#e60012"/>
<text class="sa" x="448" y="319.7" font-size="17" text-anchor="start" font-weight="normal" fill="#000" textLength="54.5" lengthAdjust="spacingAndGlyphs">CP-OX</text>
<text class="sa" x="448" y="341.6" font-size="17" text-anchor="start" font-weight="normal" fill="#000" textLength="54.5" lengthAdjust="spacingAndGlyphs">ER-OX</text>
<text class="se" x="397.6" y="372.8" font-size="18" text-anchor="start" font-weight="bold" fill="#000" textLength="88" lengthAdjust="spacingAndGlyphs">From c to d</text>
</g>
</svg></body></html>
